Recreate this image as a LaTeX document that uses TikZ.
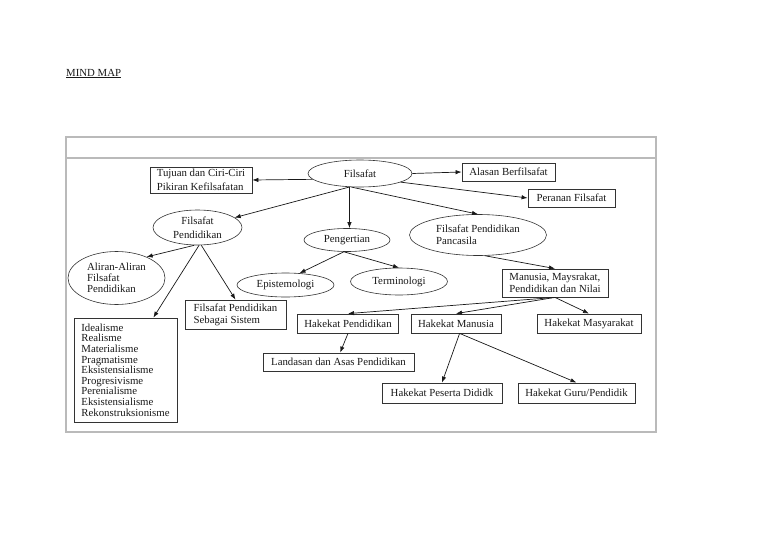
\documentclass[tikz,border=0pt]{standalone}
\usepackage{fontspec}
\setmainfont{Liberation Serif}
\usetikzlibrary{shapes.geometric,arrows.meta}
\begin{document}
\begin{tikzpicture}[x=1pt,y=-1pt,
  every node/.style={font=\fontsize{10.8}{12}\selectfont, inner sep=0pt, text=black!90},
  box/.style={draw=black!80, line width=0.8pt, rectangle, align=left},
  ell/.style={draw=black!80, line width=0.6pt, ellipse, align=left},
  arr/.style={-{Latex[length=6pt,width=4.4pt]}, line width=0.7pt, draw=black!90},
  frame/.style={draw=black!27, line width=1.1pt}]
\useasboundingbox[fill=white] (0,0) rectangle (768,543);

% title
\node[anchor=base west] (title) at (66,76) {\underline{MIND MAP}};

% frame
\draw[frame] (66,137) rectangle (656,432);
\draw[frame] (66,158) -- (656,158);

% ellipses
\node[ell, minimum width=104, minimum height=27] (fil) at (360,173.5) {Filsafat};
\node[ell, align=center, minimum width=89, minimum height=35, font=\fontsize{10.8}{14}\selectfont] (fp) at (197.5,227.5) {Filsafat\\Pendidikan};
\node[ell, minimum width=86, minimum height=23] (peng) at (347,240) {Pengertian};
\node[ell, minimum width=137, minimum height=41] (fpp) at (478,235) {Filsafat Pendidikan\\Pancasila};
\node[ell, minimum width=97, minimum height=53, font=\fontsize{10.8}{11}\selectfont] (ali) at (116.5,278) {Aliran-Aliran\\Filsafat\\Pendidikan};
\node[ell, minimum width=97, minimum height=24] (epi) at (285.5,285) {Epistemologi};
\node[ell, minimum width=97, minimum height=27] (ter) at (399,281.5) {Terminologi};

% boxes
\node[box, minimum width=102, minimum height=26, font=\fontsize{10.8}{13.5}\selectfont] (tuj) at (201,180) {Tujuan dan Ciri-Ciri\\Pikiran Kefilsafatan};
\node[box, minimum width=93, minimum height=18] (ala) at (508.5,172) {Alasan Berfilsafat};
\node[box, minimum width=87, minimum height=18] (per) at (571.5,198) {Peranan Filsafat};
\node[box, minimum width=106, minimum height=28] (man) at (555,283) {Manusia, Maysrakat,\\Pendidikan dan Nilai};
\node[box, minimum width=101, minimum height=29] (fps) at (235.5,314.5) {Filsafat Pendidikan\\Sebagai Sistem};
\node[box, minimum width=103, minimum height=104, font=\fontsize{10.8}{10.65}\selectfont] (ide) at (125.5,370) {Idealisme\\Realisme\\Materialisme\\Pragmatisme\\Eksistensialisme\\Progresivisme\\Perenialisme\\Eksistensialisme\\Rekonstruksionisme};
\node[box, minimum width=101, minimum height=19] (hp) at (348,323.5) {Hakekat Pendidikan};
\node[box, minimum width=90, minimum height=19] (hm) at (456,323.5) {Hakekat Manusia};
\node[box, minimum width=104, minimum height=19] (hms) at (589,323.5) {Hakekat Masyarakat};
\node[box, minimum width=151, minimum height=18] (lan) at (338.5,362) {Landasan dan Asas Pendidikan};
\node[box, minimum width=120, minimum height=20] (pes) at (442,393) {Hakekat Peserta Dididk};
\node[box, minimum width=117, minimum height=20] (gur) at (576.5,393) {Hakekat Guru/Pendidik};

% connectors
\draw[arr] (fil.187) -- (tuj.east);
\draw[arr] (fil.east) -- (ala.west);
\draw[arr] (fil.-12) -- (per.west);
\draw[arr] (fil.232) -- (fp);
\draw[arr] (fil.232) -- (fil.232 |- peng.north);
\draw[arr] (fil.238) -- (fpp.north);
\draw[arr] (fp.260) -- (ali.35);
\draw[arr] (fp.275) -- (ide.62);
\draw[arr] (fp.282) -- (fps.north);
\draw[arr] (peng.255) -- (epi.40);
\draw[arr] (peng.255) -- (ter.north);
\draw[arr] (fpp.-72) -- (man.north);
\draw[arr] (man.south) -- (hp.north);
\draw[arr] (man.south) -- (hm.north);
\draw[arr] (man.south) -- (hms.north);
\draw[arr] (hp.south) -- (lan.80);
\draw[arr] (hm.-70) -- (pes.north);
\draw[arr] (hm.-70) -- (gur.north);
\end{tikzpicture}
\end{document}
